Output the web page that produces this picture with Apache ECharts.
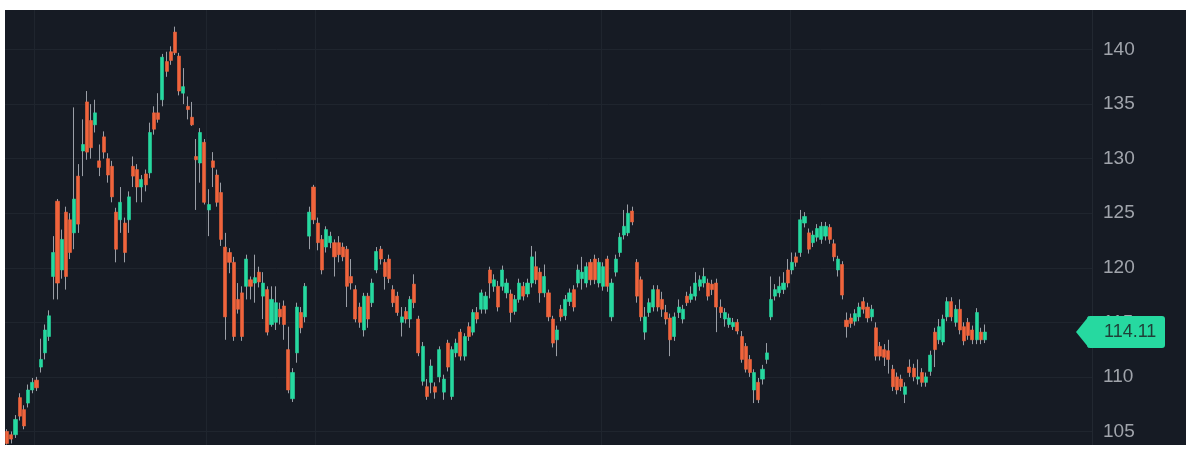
<!DOCTYPE html>
<html>
<head>
<meta charset="utf-8">
<script src="https://cdn.jsdelivr.net/npm/echarts@6/dist/echarts.min.js"></script>
<style>
  html, body { margin: 0; padding: 0; background: #ffffff; width: 1200px; height: 460px; overflow: hidden; }
  #frame { position: absolute; left: 5px; top: 10px; width: 1181px; height: 435px; overflow: hidden; background: #161b24; }
  #chart { position: absolute; left: 0px; top: -15px; width: 1181px; height: 491px; }
</style>
</head>
<body>
<div id="frame"><div id="chart"></div></div>
<script>
// ---- data ----
const opens = [
105.0,104.7,104.7,108.1,107.0,107.6,108.8,109.7,110.9,112.2,113.7,119.2,126.1,119.8,125.1,124.4,123.2,128.4,130.7,135.2,
133.5,133.1,129.8,132.0,130.0,129.3,125.1,124.4,124.1,124.4,129.3,129.0,127.4,128.6,128.7,134.2,134.2,135.4,138.9,139.8,
141.6,139.4,136.0,134.8,133.8,130.2,129.6,131.5,125.3,129.8,128.5,126.9,121.9,121.4,120.5,117.1,117.7,118.3,118.9,118.6,
119.6,117.4,118.0,114.8,115.0,116.2,116.5,112.5,108.0,112.2,115.9,115.5,122.9,127.4,124.1,122.6,121.9,122.3,122.3,122.3,
121.9,121.7,119.2,118.0,116.4,114.3,117.4,116.8,119.8,121.7,120.5,120.8,118.0,117.4,115.0,116.0,115.3,118.5,115.3,109.6,
109.1,109.5,109.1,110.0,108.6,113.1,108.2,112.2,114.1,111.9,114.6,114.1,115.9,116.2,116.2,119.8,118.3,118.3,118.3,117.7,
117.6,116.0,117.1,118.3,117.6,118.6,120.1,119.6,117.7,117.7,115.3,113.4,116.2,115.6,116.9,118.0,118.6,119.0,118.6,120.5,
120.8,118.6,118.3,120.8,115.5,119.6,121.4,123.0,123.2,125.2,120.5,118.9,114.1,115.9,116.4,118.0,117.1,115.9,115.4,113.7,
115.9,115.3,117.4,117.1,117.4,118.3,118.6,118.6,118.5,118.6,116.4,115.3,114.8,114.6,115.0,113.7,112.8,111.6,108.8,109.5,
109.8,111.6,115.5,117.4,117.7,118.0,119.8,119.8,121.0,121.4,124.1,123.2,122.3,122.8,122.6,122.9,123.7,122.2,119.8,120.3,
115.2,115.4,115.1,115.5,116.9,116.4,115.5,114.5,112.8,112.5,112.4,110.7,110.0,109.8,108.4,110.9,110.8,109.8,110.4,109.5,
110.5,114.1,113.4,113.2,115.5,116.9,115.0,116.2,114.6,115.0,114.3,113.4,114.1,113.4
];
const closes = [
103.9,104.3,106.1,106.4,105.5,108.8,109.5,109.0,111.6,114.3,115.6,121.4,118.6,122.6,119.2,121.4,126.3,124.0,131.3,130.6,
131.0,134.2,129.2,130.6,128.5,126.5,121.7,126.0,121.4,126.5,128.4,127.4,128.1,127.6,132.4,132.7,133.6,139.3,138.0,139.0,
139.7,136.2,136.6,134.5,133.1,129.9,132.4,126.0,125.8,129.2,126.0,122.6,115.5,120.5,113.7,116.2,113.7,120.8,118.3,119.1,
118.7,118.6,114.1,117.1,116.8,115.5,114.8,108.8,110.4,116.4,114.5,118.3,125.1,124.4,122.3,119.8,123.5,122.9,121.0,121.2,
121.0,118.3,118.6,115.3,115.0,117.4,115.3,118.6,121.5,120.8,119.2,119.0,116.8,115.9,115.5,115.3,117.1,116.8,112.2,112.8,
108.2,111.0,108.6,112.5,109.8,110.9,112.5,113.1,111.9,113.7,113.7,115.9,115.3,117.7,117.4,118.6,118.9,116.4,119.8,118.6,
115.9,117.1,118.6,117.4,118.6,121.0,118.9,117.7,119.2,115.5,113.1,114.3,115.5,117.1,117.7,116.4,119.8,119.6,120.1,118.9,
118.9,120.5,120.1,118.3,118.6,120.8,122.8,123.8,125.0,124.2,117.4,115.5,115.5,116.8,118.0,116.4,116.2,115.3,113.4,115.5,
116.4,116.2,116.8,117.6,118.6,118.9,119.2,117.4,118.0,116.4,115.9,115.9,115.4,115.0,114.2,111.6,110.7,110.4,110.4,107.9,
110.7,112.2,117.1,118.0,118.3,118.6,118.6,120.5,120.5,124.4,124.7,121.7,123.0,123.6,123.8,123.8,122.6,121.0,120.8,117.5,
114.6,114.9,115.8,116.4,116.2,115.4,116.2,111.9,111.9,111.8,111.6,109.1,108.8,109.1,109.1,110.4,110.0,110.0,109.5,110.0,
112.0,112.5,114.6,115.3,116.9,115.5,116.2,114.3,113.3,113.8,113.4,115.9,113.4,114.11
];
const lows = [
103.8,103.9,104.4,106.0,105.2,107.2,108.5,108.7,110.4,111.6,113.3,117.1,117.1,119.0,118.0,120.8,121.7,123.2,128.4,129.9,
130.0,132.4,128.4,130.0,127.8,126.0,120.5,123.2,120.5,123.2,127.4,126.0,126.0,127.0,128.2,132.2,133.3,134.8,137.5,138.6,
139.5,135.8,135.0,133.6,133.0,125.3,127.8,125.8,122.9,127.4,125.6,122.0,113.4,119.5,113.3,115.8,113.3,117.1,117.1,116.8,
118.2,115.3,113.8,114.6,114.3,114.8,113.4,108.5,107.7,111.3,114.0,115.0,121.7,124.0,121.6,119.4,121.4,121.8,119.2,120.5,
120.6,116.4,118.0,115.0,114.5,113.7,114.5,116.4,119.5,120.3,118.0,118.6,116.4,115.6,113.7,114.9,114.5,116.3,111.9,109.2,
107.9,108.5,108.0,109.5,107.9,110.5,107.9,111.8,111.5,111.5,113.3,113.8,114.9,115.8,115.8,117.2,117.8,116.0,117.9,117.2,
115.0,115.7,116.8,117.0,117.3,118.2,118.5,116.8,117.3,115.1,112.7,111.9,115.1,115.2,116.5,116.0,118.2,118.0,118.2,118.4,
118.5,118.2,117.9,117.8,115.1,119.2,121.0,122.6,122.9,123.9,116.8,115.1,113.4,115.5,116.0,116.0,115.5,114.8,111.9,113.3,
115.4,114.9,116.5,116.8,117.0,117.9,118.2,117.0,117.5,114.1,115.4,114.6,114.5,114.3,113.9,111.3,110.4,110.0,107.6,107.6,
109.3,111.2,115.2,117.0,117.3,117.6,118.2,119.4,120.1,121.0,123.7,121.3,121.9,122.4,122.2,122.5,122.2,120.6,119.2,117.1,
113.6,114.5,114.7,115.1,115.8,115.0,115.1,111.5,111.5,111.0,110.3,108.7,108.4,108.7,107.6,110.0,109.6,109.3,109.1,109.1,
110.1,110.9,113.0,112.9,115.1,115.1,114.6,113.9,112.9,113.4,113.0,113.0,113.0,113.1
];
const highs = [
105.2,105.0,106.5,108.5,107.4,109.3,109.9,110.0,113.5,114.8,116.1,122.9,126.3,123.5,125.6,125.0,134.7,129.5,133.6,136.2,
135.0,135.4,131.3,132.5,130.5,129.8,125.5,127.4,124.6,127.0,130.2,129.5,128.5,129.0,133.3,134.8,136.0,139.6,139.8,140.3,
142.1,139.7,138.3,135.7,135.2,131.8,132.8,131.8,127.2,130.6,129.0,127.8,123.2,121.8,121.0,118.6,118.3,121.2,119.2,121.2,
120.1,119.6,118.3,118.3,118.3,116.8,117.0,114.6,110.8,116.8,116.4,118.6,125.6,127.6,124.6,123.0,123.8,123.3,122.6,122.9,
122.3,122.0,120.8,118.4,116.8,117.7,117.7,119.0,121.9,122.0,120.8,121.2,118.4,117.8,116.4,116.4,117.4,119.4,115.6,113.2,
109.8,111.6,109.5,112.8,110.2,113.4,112.8,113.5,114.4,114.0,115.0,116.2,116.4,118.0,117.8,120.1,119.4,118.8,120.2,119.0,
118.0,117.5,119.0,118.7,119.0,122.0,121.5,120.0,120.3,118.0,115.6,114.7,116.6,117.5,118.1,118.4,120.3,121.0,120.5,120.8,
121.2,120.9,120.5,121.1,119.0,121.2,123.2,125.3,125.8,125.6,120.8,119.2,116.4,117.2,118.4,118.4,117.8,116.6,115.8,115.9,
117.1,116.6,117.8,118.3,119.6,119.3,120.0,119.0,118.9,119.0,117.1,116.3,115.8,115.4,115.3,114.2,113.1,112.0,110.7,109.9,
111.1,113.1,119.2,118.5,119.2,119.6,120.8,121.4,121.4,125.3,125.1,123.6,123.4,124.0,124.2,124.2,124.0,122.6,121.1,120.6,
115.9,115.8,116.2,116.8,117.3,116.8,116.6,115.0,113.2,113.0,113.4,111.1,110.4,110.2,109.5,111.6,111.2,111.6,110.8,110.4,
112.4,114.5,115.3,115.7,117.3,117.3,116.6,117.1,115.0,115.4,114.7,116.3,114.5,114.8
];
const slotCount = 259;              // trading slots on the time axis (incl. empty right margin)
const categories = Array.from({ length: slotCount }, (_, i) => 'D' + (i + 1));
const yTicks = { min: 100, max: 145, step: 5 };
const vLineSlots = [7, 48, 74, 142, 187];   // month-boundary grid lines
const lastPrice = 114.11;

// ---- build ----
const UP = '#26d9a0', DOWN = '#f0643c', WICK = '#9a9ea6';
const wickData = opens.map((o, i) => [o, closes[i], lows[i], highs[i]]);
const bodyData = opens.map((o, i) => [o, closes[i], Math.min(o, closes[i]), Math.max(o, closes[i])]);

const chart = echarts.init(document.getElementById('chart'), null, { renderer: 'canvas' });
chart.setOption({
  backgroundColor: '#161b24',
  animation: false,
  grid: { left: 0, right: 94, top: 0, bottom: 0, containLabel: false },
  xAxis: {
    type: 'category',
    data: categories,
    boundaryGap: true,
    axisLine: { show: false },
    axisTick: { show: false },
    axisLabel: { show: false },
    splitLine: {
      show: true,
      interval: (idx) => vLineSlots.indexOf(idx) >= 0,
      lineStyle: { color: '#1f252e', width: 1 }
    }
  },
  yAxis: {
    type: 'value',
    position: 'right',
    min: yTicks.min,
    max: yTicks.max,
    interval: yTicks.step,
    axisLine: { show: true, lineStyle: { color: '#222831', width: 1 } },
    axisTick: { show: false },
    splitLine: { show: true, lineStyle: { color: '#1f252e', width: 1 } },
    axisLabel: {
      color: '#a0a4ab',
      fontSize: 19,
      fontFamily: 'Liberation Sans, Arial, sans-serif',
      margin: 11,
      showMinLabel: false,
      showMaxLabel: false
    }
  },
  series: [
    {
      type: 'candlestick',
      name: 'wick',
      data: wickData,
      barWidth: 1,
      itemStyle: { color: WICK, color0: WICK, borderColor: WICK, borderColor0: WICK, borderWidth: 1 },
      silent: true,
      z: 2
    },
    {
      type: 'candlestick',
      name: 'body',
      data: bodyData,
      barWidth: 3.6,
      itemStyle: { color: UP, color0: DOWN, borderColor: UP, borderColor0: DOWN, borderWidth: 0.6 },
      z: 3
    }
  ]
});

const py = chart.convertToPixel({ yAxisIndex: 0 }, lastPrice);
chart.setOption({
  graphic: [
    {
      type: 'polygon', z: 100,
      shape: { points: [[1071, py], [1084, py - 16], [1084, py + 16]] },
      style: { fill: UP }
    },
    {
      type: 'rect', z: 100,
      shape: { x: 1082, y: py - 16, width: 78, height: 32, r: 3 },
      style: { fill: UP }
    },
    {
      type: 'text', z: 101,
      x: 1099, y: py,
      style: {
        text: lastPrice.toFixed(2),
        fill: '#1f3f37',
        fontSize: 18,
        fontFamily: 'Liberation Sans, Arial, sans-serif',
        verticalAlign: 'middle',
        align: 'left'
      }
    }
  ]
});
</script>
</body>
</html>
